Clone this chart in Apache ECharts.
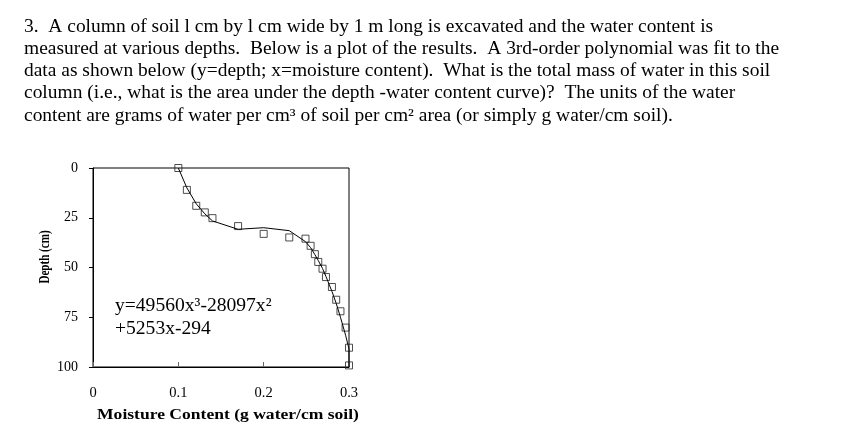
<!DOCTYPE html>
<html>
<head>
<meta charset="utf-8">
<script src="https://cdn.jsdelivr.net/npm/echarts@6/dist/echarts.min.js"></script>
<style>
html,body{margin:0;padding:0;background:#fff;}
#chart{width:850px;height:433px;}
</style>
</head>
<body>
<div id="chart"></div>
<script>
// Measured data points (moisture content, depth)
const moisture = [0.100, 0.110, 0.121, 0.131, 0.140, 0.170, 0.200, 0.230, 0.249, 0.255, 0.260, 0.264, 0.269, 0.273, 0.280, 0.285, 0.290, 0.296, 0.300, 0.300];
const depth    = [0, 11, 19, 22.3, 25.2, 29.2, 33.1, 34.9, 35.5, 39.1, 43.3, 47.2, 50.6, 54.8, 59.8, 66.2, 72.0, 80.2, 90.3, 99.2];
// Trendline as drawn (at the same moisture values)
const fitDepth = [0, 10, 18, 23, 26.6, 30.8, 30.0, 31.5, 37, 40, 43.5, 46.5, 50.5, 54.5, 62, 68, 75, 84, 91, 100];

const titleLines = [
  '3.  A column of soil l cm by l cm wide by 1 m long is excavated and the water content is',
  'measured at various depths.  Below is a plot of the results.  A 3rd-order polynomial was fit to the',
  'data as shown below (y=depth; x=moisture content).  What is the total mass of water in this soil',
  'column (i.e., what is the area under the depth -water content curve)?  The units of the water',
  'content are grams of water per cm³ of soil per cm² area (or simply g water/cm soil).'
];
const equationLines = ['y=49560x³-28097x²', '+5253x-294'];
const xTitle = 'Moisture Content (g water/cm soil)';
const yTitle = 'Depth (cm)';

const serif = '"Times New Roman", "Liberation Serif", "DejaVu Serif", serif';

const chart = echarts.init(document.getElementById('chart'), null, {renderer: 'canvas'});
const pts = moisture.map((m, i) => [m, depth[i]]);
const fit = moisture.map((m, i) => [m, fitDepth[i]]);

chart.setOption({
  animation: false,
  backgroundColor: '#fff',
  grid: {
    left: 93, top: 168, width: 256, height: 199,
    show: true, borderColor: '#000', borderWidth: 1, backgroundColor: 'transparent',
    outerBoundsMode: 'none', containLabel: false
  },
  xAxis: {
    type: 'value', min: 0, max: 0.3, interval: 0.1,
    axisLine: {show: true, onZero: false, lineStyle: {color: '#000', width: 1}},
    axisTick: {show: true, inside: true, length: 5, lineStyle: {color: '#666', width: 1}},
    splitLine: {show: false},
    axisLabel: {color: '#000', fontFamily: serif, fontSize: 14.5, margin: 19,
      formatter: v => String(+v.toFixed(1))}
  },
  yAxis: {
    type: 'value', min: 0, max: 100, interval: 25, inverse: true,
    axisLine: {show: true, onZero: false, lineStyle: {color: '#000', width: 1}},
    axisTick: {show: true, inside: false, length: 4, lineStyle: {color: '#000'}},
    splitLine: {show: false},
    axisLabel: {color: '#000', fontFamily: serif, fontSize: 14, margin: 15, padding: [7, 0, 0, 0]}
  },
  series: [
    {
      type: 'scatter', data: pts, symbol: 'rect', symbolSize: 7, clip: false,
      itemStyle: {color: 'rgba(0,0,0,0)', borderColor: '#222', borderWidth: 1},
      emphasis: {disabled: true}, z: 2
    },
    {
      type: 'line', data: fit, showSymbol: false, clip: false, smooth: false,
      lineStyle: {color: '#000', width: 1},
      emphasis: {disabled: true}, z: 3
    }
  ],
  graphic: [
    {
      type: 'text', x: 24, y: 15.5, scaleX: 1.052, silent: true,
      style: {text: titleLines.join('\n'), font: '18.5px ' + serif, fill: '#000', lineHeight: 22.3}
    },
    {
      type: 'text', x: 115, y: 295, scaleX: 1.03, silent: true,
      style: {text: equationLines.join('\n'), font: '19px ' + serif, fill: '#000', lineHeight: 23}
    },
    {
      type: 'text', x: 228, y: 415, scaleX: 1.17, silent: true,
      style: {text: xTitle, font: 'bold 15px ' + serif, fill: '#000', align: 'center', verticalAlign: 'middle'}
    },
    {
      type: 'text', x: 45, y: 257, rotation: Math.PI / 2, scaleX: 0.79, silent: true,
      style: {text: yTitle, font: 'bold 14px ' + serif, fill: '#000', align: 'center', verticalAlign: 'middle'}
    }
  ]
});
</script>
</body>
</html>
